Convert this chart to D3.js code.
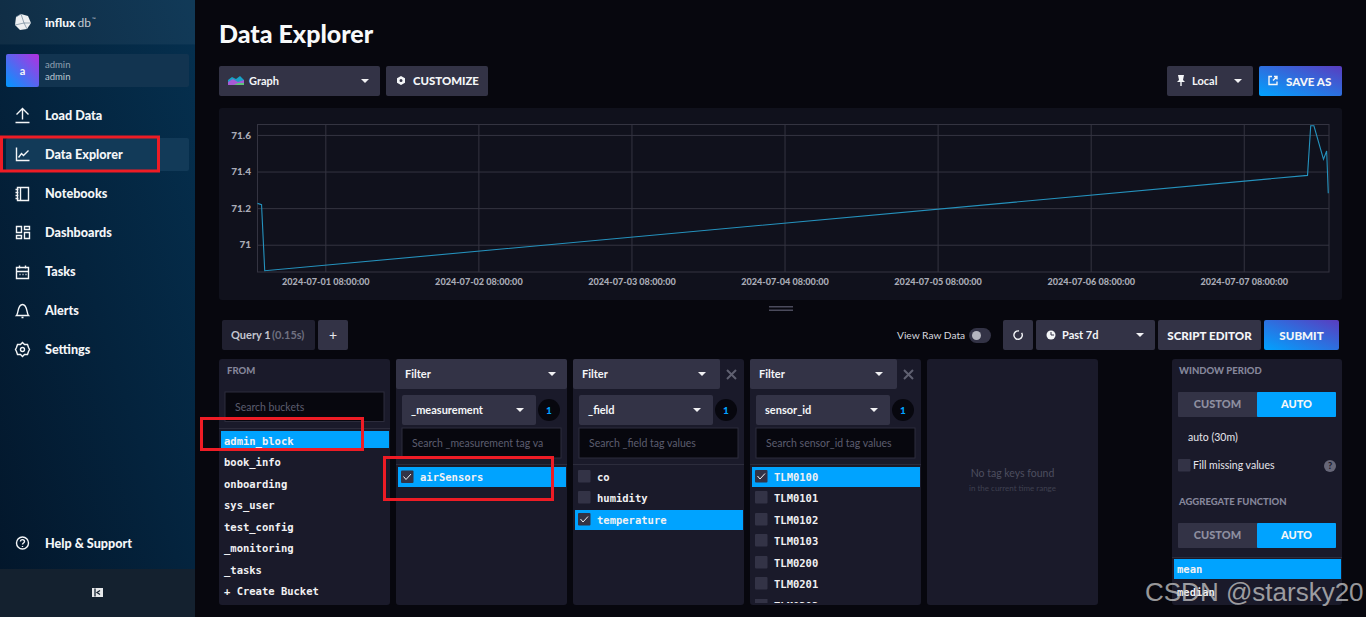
<!DOCTYPE html>
<html>
<head>
<meta charset="utf-8">
<title>Data Explorer</title>
<script src="https://cdn.jsdelivr.net/npm/d3@7"></script>
<style>
  html, body { margin: 0; padding: 0; background: #07070e; overflow: hidden; }
  svg { display: block; }
  text { font-family: Lato, "Open Sans", sans-serif; }
  .mono { font-family: "DejaVu Sans Mono", monospace; }
</style>
</head>
<body>
<script>
// chart values
var times = ["2024-06-30 21:22", "2024-06-30 22:00", "2024-06-30 22:30", "2024-07-07 18:00",
             "2024-07-07 18:30", "2024-07-07 19:00", "2024-07-07 20:30", "2024-07-07 21:00", "2024-07-07 21:15"];
var temperature = [71.226, 71.219, 70.858, 71.379, 71.65, 71.65, 71.467, 71.512, 71.281];
var yTicks = [71, 71.2, 71.4, 71.6];
var xTicks = ["2024-07-01 08:00", "2024-07-02 08:00", "2024-07-03 08:00", "2024-07-04 08:00",
              "2024-07-05 08:00", "2024-07-06 08:00", "2024-07-07 08:00"];

// lists in the page
var navLabels = ["Load Data", "Data Explorer", "Notebooks", "Dashboards", "Tasks", "Alerts", "Settings"];
var buckets = ["admin_block", "book_info", "onboarding", "sys_user", "test_config", "_monitoring", "_tasks", "+ Create Bucket"];
var bucketRows = [441, 462, 484, 505, 527, 548, 570, 591];
var fields = ["co", "humidity", "temperature"];
var sensors = ["TLM0100", "TLM0101", "TLM0102", "TLM0103", "TLM0200", "TLM0201", "TLM0202"];
var listRows = [477, 498, 520, 541, 563, 584, 606];

var BLUE = "#00a3ff", PANEL = "#1a1a2a", BTN = "#333346", INK = "#07070e", RED = "#ee1c25";

var svg = d3.select("body").append("svg")
    .attr("width", 1366)
    .attr("height", 617);

var defs = svg.append("defs");

function gradient(id, x1, y1, x2, y2, stops) {
  var g = defs.append("linearGradient").attr("id", id)
      .attr("x1", x1).attr("y1", y1).attr("x2", x2).attr("y2", y2);
  stops.forEach(function(s, i) {
    g.append("stop").attr("offset", i / (stops.length - 1)).attr("stop-color", s);
  });
}
gradient("side", 1, 0, 0, 1, ["#05304f", "#04233d", "#03162a"]);
gradient("avatar", 0, 1, 1, 0, ["#0098ff", "#b42fe0"]);
gradient("primary", 0, 1, 1, 0, ["#00a3ff", "#5a3cbf"]);

function box(x, y, w, h, fill, r, parent) {
  return (parent || svg).append("rect")
      .attr("x", x).attr("y", y).attr("width", w).attr("height", h)
      .attr("fill", fill).attr("rx", r === undefined ? 2 : r);
}

// y is the vertical middle of the text
function label(str, x, y, size, color, weight, anchor) {
  return svg.append("text")
      .attr("x", x).attr("y", y).attr("dy", "0.35em")
      .attr("font-size", size).attr("fill", color)
      .attr("font-weight", weight || 400)
      .attr("text-anchor", anchor || "start")
      .text(str);
}

function mono(str, x, y, color) {
  return label(str, x, y, 10.5, color || "#f1f1f3", 700).attr("class", "mono");
}

function caret(x, y) {
  svg.append("path").attr("d", d3.line()([[x - 4, y - 2], [x + 4, y - 2], [x, y + 2]]) + "Z").attr("fill", "#f1f1f3");
}

function checkbox(x, y, on) {
  box(x, y, 12.5, 12.5, BTN, 1);
  if (on) {
    svg.append("path")
        .attr("d", d3.line()([[x + 2.5, y + 6], [x + 5, y + 9], [x + 10, y + 3.5]]))
        .attr("fill", "none").attr("stroke", "#f1f1f3").attr("stroke-width", 1);
  }
}

function icon(d, x, y, fill) {
  return svg.append("path").attr("d", d)
      .attr("transform", "translate(" + x + "," + y + ")")
      .attr("fill", fill || "none")
      .attr("stroke", fill ? "none" : "#f4f6f8")
      .attr("stroke-width", 1.4);
}

function redBox(x, y, w, h) {
  svg.append("rect").attr("x", x).attr("y", y).attr("width", w).attr("height", h)
      .attr("fill", "none").attr("stroke", RED).attr("stroke-width", 3);
}

// sidebar
box(0, 0, 195, 617, "url(#side)", 0);
box(0, 0, 195, 44.5, "#ffffff", 0).attr("opacity", 0.05);
box(0, 569, 195, 48, "#14212f", 0);

var logo = svg.append("g").attr("transform", "translate(23,22)");
logo.append("path").attr("d", "M-2,-8L5,-6L8,1L4,7L-3,8L-8,3L-7,-5Z").attr("fill", "#eef0f2");
logo.append("path").attr("d", "M-2,-8L1,1L-8,3M1,1L4,7M1,1L8,1M-2,-8L-7,-5")
    .attr("fill", "none").attr("stroke", "#6e8496").attr("stroke-width", 0.7);
label("influx", 45, 22.5, 12, "#f4f6f8", 900);
label("db", 77.5, 22.5, 12, "#c6ccd2", 400);
label("™", 92, 19, 5, "#c6ccd2", 400);

box(6, 54, 183, 33, "#123450", 2);
box(6, 54, 33, 33, "url(#avatar)", 2);
label("a", 22.5, 71, 11, "#f4f6f8", 700, "middle");
label("admin", 45, 65, 9.5, "#8fa0b0", 400);
label("admin", 45, 77, 9.5, "#b9c6d1", 400);

box(6, 138, 183, 33, "#123a58", 2);

var navPaths = [
  "M-6,-1L0,-7L6,-1M0,-7V4M-7,7H7",
  "M-6,-7V6H7M-4,3L-1,-1L1,1L6,-4",
  "M-5,-6H6V7H-5ZM-2,-6V7M-7,-4H-4M-7,-1H-4M-7,2H-4M-7,5H-4",
  "M-6,-6H-1V0H-6ZM2,-6H7V-3H2ZM2,0H7V6H2ZM-6,3H-1V6H-6Z",
  "M-6,-4H6V7H-6ZM-6,0H6M-3,-6V-3M3,-6V-3M-3,3H-2M0,3H1M3,3H4",
  "M-6,5C-4,3 -5,-6 0,-6C5,-6 4,3 6,5ZM-1,7H1",
  "M0,-7L2,-5L5,-5L6,-2L7,0L6,2L5,5L2,5L0,7L-2,5L-5,5L-6,2L-7,0L-6,-2L-5,-5L-2,-5ZM2,0A2,2 0 1 1 -2,0A2,2 0 1 1 2,0"
];
navLabels.forEach(function(d, i) {
  var cy = 115.5 + i * 39;
  icon(navPaths[i], 22.5, cy);
  label(d, 45, cy + 0.5, 12.6, "#f4f6f8", 900);
});
icon("M6,0A6,6 0 1 1 -6,0A6,6 0 1 1 6,0M-2,-1.5C-2,-4 2,-4 2,-1.5C2,0 0,0 0,1.5M0,3V4", 22.5, 543);
label("Help & Support", 45, 543.5, 12.6, "#f4f6f8", 900);
box(92, 588, 11, 9, "#e6e8ea", 0);
icon("M3,-4V4M8,-2L5,0L8,2", 92, 592.5).attr("stroke", "#14212f").attr("stroke-width", 1.3);

// header and toolbar
label("Data Explorer", 219, 34, 25, "#f8f9fa", 900);

box(219, 66, 161, 30, BTN);
svg.append("path").attr("d", "M228,85V80L232,77L236,79L240,76L244,80V85Z").attr("fill", "#17a2c7");
svg.append("path").attr("d", "M228,85V82L233,79L238,82L244,80V85Z").attr("fill", "#a65bd6");
svg.append("path").attr("d", "M234,85L238,83L244,83V85Z").attr("fill", "#5fc47a");
label("Graph", 249, 81.5, 11, "#f4f6f8", 700);
caret(365, 81);
box(386, 66, 102, 30, BTN);
icon("M0,-4.5L4,-2.3V2.3L0,4.5L-4,2.3V-2.3ZM1.5,0A1.5,1.5 0 1 1 -1.5,0A1.5,1.5 0 1 1 1.5,0", 401, 80.5, "#f4f6f8").attr("fill-rule", "evenodd");
label("CUSTOMIZE", 413, 81.5, 11.4, "#f4f6f8", 900);

box(1167, 66, 86, 30, BTN);
icon("M-3,-5H3L2,0L4,2H-4L-2,0ZM-0.7,2H0.7V6H-0.7Z", 1181, 80, "#f4f6f8");
label("Local", 1192, 81.5, 11, "#f4f6f8", 700);
caret(1238, 81);
box(1259, 66, 83, 30, "url(#primary)");
icon("M-1,-4H-4V4H4V1M0,0L4,-4M1,-4H4V-1", 1273, 80.5);
label("SAVE AS", 1286, 81.5, 11.6, "#f4f6f8", 900);

// graph
box(219, 108, 1123, 192, "#10111c", 3);

var plot = {left: 257.5, right: 1329, top: 124.5, bottom: 272};
var parseTime = d3.timeParse("%Y-%m-%d %H:%M");

var x = d3.scaleTime()
    .domain([parseTime("2024-06-30 21:22"), parseTime("2024-07-07 21:22")])
    .range([plot.left, plot.right]);
var y = d3.scaleLinear()
    .domain([70.851, 71.657])
    .range([plot.bottom, plot.top]);

var gx = svg.append("g")
    .attr("class", "x axis")
    .attr("transform", "translate(0," + plot.bottom + ")")
    .call(d3.axisBottom(x)
        .tickValues(xTicks.map(parseTime))
        .tickFormat(d3.timeFormat("%Y-%m-%d %H:%M:%S"))
        .tickSize(plot.top - plot.bottom)
        .tickPadding(0));

var gy = svg.append("g")
    .attr("class", "y axis")
    .attr("transform", "translate(" + plot.left + ",0)")
    .call(d3.axisLeft(y)
        .tickValues(yTicks)
        .tickFormat(function(d) { return String(d); })
        .tickSize(plot.left - plot.right)
        .tickPadding(6.5));

svg.selectAll(".axis .domain").remove();
svg.selectAll(".axis line").attr("stroke", "#343441").attr("stroke-width", 1);
svg.selectAll(".axis text")
    .attr("fill", "#a9abb6")
    .attr("font-family", "Lato, sans-serif")
    .attr("font-weight", 900)
    .attr("font-size", 10);
gx.selectAll("text").attr("y", 10).attr("dy", "0.35em").attr("font-size", 9.1);

svg.append("rect")
    .attr("x", plot.left).attr("y", plot.top)
    .attr("width", plot.right - plot.left).attr("height", plot.bottom - plot.top)
    .attr("fill", "none").attr("stroke", "#343441");

var line = d3.line()
    .x(function(d) { return x(parseTime(d)); })
    .y(function(d, i) { return y(temperature[i]); });

svg.append("path")
    .datum(times)
    .attr("d", line)
    .attr("fill", "none")
    .attr("stroke", "#2592bd")
    .attr("stroke-width", 1.1);

// resize handle
box(769, 306, 24, 1.5, "#4b4b5c", 0);
box(769, 309.5, 24, 1.5, "#4b4b5c", 0);

// query bar
box(222, 320, 93, 30, "#202030");
label("Query 1", 231, 335.5, 11, "#c4c5cf", 700);
label("(0.15s)", 272, 335.5, 11, "#6f7080", 700);
box(318, 320, 30, 30, BTN);
label("+", 333, 335, 14, "#e6e6ec", 400, "middle");

label("View Raw Data", 897, 335.5, 10.2, "#d6d7de", 400);
box(969, 328, 22, 15, BTN, 7.5);
svg.append("circle").attr("cx", 976.5).attr("cy", 335.5).attr("r", 4.5).attr("fill", "#b4b5bf");

box(1003, 320, 30, 30, BTN);
icon("M3.6,-2.2A4.2,4.2 0 1 1 1,-4", 1018, 335);
box(1036, 320, 119, 30, BTN);
svg.append("circle").attr("cx", 1051).attr("cy", 335).attr("r", 4.5).attr("fill", "#f4f6f8");
icon("M0,-3V0H3", 1051, 335).attr("stroke", BTN).attr("stroke-width", 1);
label("Past 7d", 1062, 335.5, 11, "#f4f6f8", 700);
caret(1140, 335);
box(1158, 320, 103, 30, BTN);
label("SCRIPT EDITOR", 1209.5, 335.5, 11.6, "#f4f6f8", 900, "middle");
box(1264, 320, 75, 30, "url(#primary)");
label("SUBMIT", 1301.5, 335.5, 11.6, "#f4f6f8", 900, "middle");

// FROM panel
box(219, 359, 171, 246, PANEL, 3);
label("FROM", 227, 370.5, 9.5, "#85869a", 900);
box(225, 392, 159, 29.5, INK, 0).attr("stroke", "#2c2c3c");
label("Search buckets", 235, 407.5, 10.5, "#5c5d6e", 400);
box(219, 428, 171, 1, "#2c2c3c", 0);
box(221, 431, 168, 17, BLUE, 0);
buckets.forEach(function(d, i) {
  mono(d, 224, bucketRows[i]);
});

// filter panels
function filterPanel(left, key, search, closable) {
  var r = left + 153;
  box(left, 359, 171, 246, PANEL, 3);
  box(left, 359, closable ? 147 : 171, 30, BTN, 2);
  label("Filter", left + 9, 374.5, 11, "#f4f6f8", 700);
  caret(closable ? left + 129 : left + 156, 374);
  if (closable) {
    svg.append("path")
        .attr("d", "M" + (left + 154) + ",370L" + (left + 163) + ",379M" + (left + 163) + ",370L" + (left + 154) + ",379")
        .attr("stroke", "#5f6070").attr("stroke-width", 2);
  }
  box(left + 6, 395, 134, 30, BTN);
  label(key, left + 15, 410.5, 11, "#f4f6f8", 700);
  caret(left + 124, 410);
  svg.append("circle").attr("cx", r).attr("cy", 410).attr("r", 11).attr("fill", INK);
  label("1", r, 410.5, 10, BLUE, 900, "middle");
  box(left + 6, 428, 159, 30, INK, 0).attr("stroke", "#2c2c3c");
  label(search, left + 16, 443.5, 10.5, "#5c5d6e", 400);
  box(left, 464, 171, 1, "#2c2c3c", 0);
}

filterPanel(396, "_measurement", "Search _measurement tag va", false);
box(398, 467, 168, 20, BLUE, 0);
checkbox(401, 470.5, true);
mono("airSensors", 420, 477);

filterPanel(573, "_field", "Search _field tag values", true);
box(575, 510, 168, 20, BLUE, 0);
fields.forEach(function(d, i) {
  checkbox(578, listRows[i] - 7, d === "temperature");
  mono(d, 597, listRows[i]);
});

filterPanel(750, "sensor_id", "Search sensor_id tag values", true);
box(752, 467, 168, 20, BLUE, 0);
var sensorClip = defs.append("clipPath").attr("id", "sensor-clip");
sensorClip.append("rect").attr("x", 750).attr("y", 465).attr("width", 171).attr("height", 138);
sensors.forEach(function(d, i) {
  if (i < 6) {
    checkbox(755, listRows[i] - 7, i === 0);
    mono(d, 774, listRows[i]);
  } else {
    box(755, listRows[i] - 7, 12.5, 4, BTN, 0);
    mono(d, 774, listRows[i]).attr("clip-path", "url(#sensor-clip)");
  }
});

// empty tag panel
box(927, 359, 171, 246, PANEL, 3);
label("No tag keys found", 1012.5, 473.5, 10.5, "#4d4e5f", 400, "middle");
label("in the current time range", 1012.5, 488, 8, "#3f4050", 400, "middle");

// aggregate panel
box(1172, 359, 170, 246, PANEL, 3);
function toggle(top) {
  box(1178, top, 158, 25, BTN, 1);
  box(1257, top, 79, 25, BLUE, 1);
  label("CUSTOM", 1217.5, top + 12.5, 11, "#8e8fa0", 900, "middle");
  label("AUTO", 1296.5, top + 12.5, 11, "#f4f6f8", 900, "middle");
}
label("WINDOW PERIOD", 1179, 370.5, 9.5, "#85869a", 900);
toggle(392);
label("auto (30m)", 1188, 437.5, 10.5, "#e6e6ec", 400);
checkbox(1178, 459, false);
label("Fill missing values", 1193, 465.5, 10.5, "#e6e6ec", 400);
svg.append("circle").attr("cx", 1330).attr("cy", 466).attr("r", 6).attr("fill", "#676778");
label("?", 1330, 466, 9, PANEL, 900, "middle");
label("AGGREGATE FUNCTION", 1179, 501.5, 9.5, "#85869a", 900);
toggle(523);
box(1172, 557, 170, 1, "#2c2c3c", 0);
box(1174, 559, 167, 20, BLUE, 0);
mono("mean", 1177, 569.5);
mono("median", 1177, 592);

// red annotation boxes
redBox(1.5, 137, 157, 34);
redBox(201.5, 418.5, 161, 31);
redBox(384.5, 457.5, 168, 42);

// watermark
svg.append("text")
    .attr("x", 1145).attr("y", 601)
    .attr("font-size", 26)
    .attr("fill", "#c8c8c8").attr("opacity", 0.75)
    .style("font-family", "'Liberation Sans', sans-serif")
    .text("CSDN @starsky20");
</script>
</body>
</html>
